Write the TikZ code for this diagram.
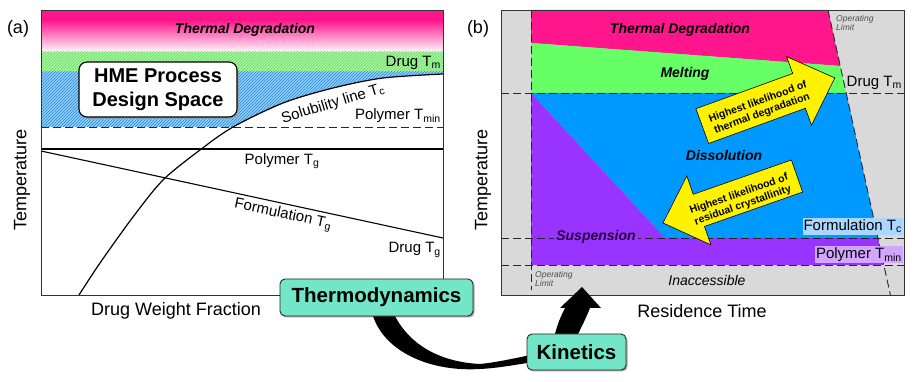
\documentclass[tikz,border=0pt]{standalone}
\usepackage{fontspec}
\setmainfont{Liberation Sans}
\usetikzlibrary{shadows,patterns}
\definecolor{mag}{RGB}{255,22,140}
\definecolor{hgreen}{RGB}{175,242,165}
\definecolor{hgreenl}{RGB}{90,225,90}
\definecolor{hblue}{RGB}{150,205,245}
\definecolor{hbluel}{RGB}{30,140,230}
\definecolor{bgreen}{RGB}{102,255,102}
\definecolor{bblue}{RGB}{0,153,255}
\definecolor{bpurple}{RGB}{153,51,255}
\definecolor{bgray}{RGB}{217,217,217}
\definecolor{keyteal}{RGB}{115,230,200}
\definecolor{lblue}{RGB}{170,215,255}
\definecolor{lpurple}{RGB}{212,165,255}
\definecolor{darkpur}{RGB}{40,0,60}
\begin{document}
\begin{tikzpicture}[x=1pt,y=-1pt,
  lbl/.style={font=\fontsize{15}{17}\selectfont, inner sep=1pt},
  ax/.style={font=\fontsize{18}{20}\selectfont},
  region/.style={font=\fontsize{14}{16}\selectfont\bfseries\itshape},
  keybox/.style={draw=black!85, fill=keyteal, rounded corners=5pt, line width=0.9pt,
    drop shadow={shadow xshift=1.5pt, shadow yshift=-1.5pt, fill=black!70},
    font=\fontsize{20.5}{22}\selectfont\bfseries, inner sep=0pt},
  limdash/.style={dash pattern=on 8pt off 4pt, line width=0.9pt, black!85},
  frame/.style={draw=black!80, line width=0.9pt},
  yarrow/.style={fill=yellow, draw=black, line width=0.6pt},
  arrtext/.style={font=\fontsize{10.5}{12}\selectfont\bfseries, align=center, inner sep=0pt},
  oplim/.style={font=\fontsize{8.5}{9.5}\selectfont\itshape, text=black!70, align=left, inner sep=0pt}
]
\useasboundingbox (0,0) rectangle (922,382);

% ================= panel (a) =================
\fill[mag] (41,10) rectangle (443,20);
\shade[top color=mag, bottom color=white] (41,20) rectangle (443,53);
\fill[hgreen] (41,52) rectangle (443,72);
\fill[pattern=north east lines, pattern color=hgreenl] (41,52) rectangle (443,72);
\begin{scope}
  \clip (41,295) -- plot[smooth] coordinates {(79,295) (100,263) (133,217) (163,180) (200,150) (233,127) (283,103) (333,88) (383,78) (443,74)} -- (443,10) -- (41,10) -- cycle;
  \fill[hblue] (41,72) rectangle (443,127);
  \fill[pattern=north east lines, pattern color=hbluel] (41,72) rectangle (443,127);
\end{scope}
\draw[limdash] (41,127) -- (443,127);
\draw[line width=1.3pt] (41,149) -- (443,149);
\draw[line width=1.1pt] (41,151) -- (443,238);
\draw[line width=1.2pt] plot[smooth] coordinates {(79,295) (100,263) (133,217) (163,180) (200,150) (233,127) (283,103) (333,88) (383,78) (443,74)};
\draw[frame] (41,10) rectangle (443,295);

\node[region] (tda) at (245,30) {Thermal Degradation};
\node[draw=black, line width=1.1pt, fill=white, rounded corners=8pt,
  drop shadow={shadow xshift=2pt, shadow yshift=-2pt, fill=black!40},
  minimum width=158pt, minimum height=55pt, align=center,
  font=\fontsize{20}{24}\selectfont\bfseries] (hme) at (158,89.5) {HME Process\\Design Space};
\node[lbl, anchor=east] (dtma) at (442,63) {Drug T\textsubscript{m}};
\node[lbl, anchor=east] (ptmina) at (442,116) {Polymer T\textsubscript{min}};
\node[lbl, rotate=17] (sol) at (333,104) {Solubility line T\textsubscript{c}};
\node[lbl] (ptga) at (282,161) {Polymer T\textsubscript{g}};
\node[lbl, rotate=-12] (ftg) at (283,215) {Formulation T\textsubscript{g}};
\node[lbl, anchor=east] (dtga) at (442,250) {Drug T\textsubscript{g}};
\node[ax] (la) at (18,29) {(a)};
\node[ax, rotate=90] (tempa) at (22,180) {Temperature};
\node[ax] (xa) at (176,311) {Drug Weight Fraction};

% ================= panel (b) =================
\fill[bgray] (501,10) rectangle (904,295);
\fill[mag] (531,10) -- (828,10) -- (840.3,66) -- (531,43) -- cycle;
\fill[bgreen] (531,43) -- (840.3,66) -- (846.2,93) -- (531,93) -- cycle;
\fill[bblue] (531,93) -- (846.2,93) -- (878,238) -- (665,238) -- cycle;
\fill[bpurple] (531,93) -- (665,238) -- (878,238) -- (883.9,265) -- (531,265) -- cycle;

\draw[limdash] (501,93) -- (904,93);
\draw[limdash] (501,238) -- (904,238);
\draw[limdash] (501,265) -- (904,265);
\draw[limdash] (531,10) -- (531,290);
\draw[limdash] (828,10) -- (890.4,295);

% yellow arrows
\begin{scope}[shift={(768.5,102)}, rotate=20]
  \draw[yarrow] (-70.5,-18.5) -- (32.5,-18.5) -- (32.5,-36.5) -- (70.5,0) -- (32.5,36.5) -- (32.5,18.5) -- (-70.5,18.5) -- cycle;
\end{scope}
\begin{scope}[shift={(730,199.5)}, rotate=199.3]
  \draw[yarrow] (-71,-17) -- (33,-17) -- (33,-36.5) -- (71,0) -- (33,36.5) -- (33,17) -- (-71,17) -- cycle;
\end{scope}
\node[arrtext, rotate=20] (a1t) at (760,108) {Highest likelihood of\\thermal degradation};
\node[arrtext, rotate=19.3] (a2t) at (741,200) {Highest likelihood of\\residual crystallinity};

\node[region] (tdb) at (680,30) {Thermal Degradation};
\node[region] (melt) at (685,74) {Melting};
\node[region] (diss) at (724,155) {Dissolution};
\node[region, text=darkpur, fill=bpurple, inner sep=2pt] (susp) at (596,237) {Suspension};
\node[font=\fontsize{14}{16}\selectfont\itshape] (inacc) at (707,280) {Inaccessible};
\node[lbl, anchor=east] (dtmb) at (903,83) {Drug T\textsubscript{m}};
\node[lbl, anchor=east, fill=lblue, minimum height=17pt, inner xsep=1pt] (ftcb) at (903,226.5) {Formulation T\textsubscript{c}};
\node[lbl, anchor=east, fill=lpurple, minimum height=17pt, inner xsep=1pt] (ptminb) at (903,254.5) {Polymer T\textsubscript{min}};
\node[oplim, anchor=north west] (ol1) at (836,15) {Operating\\Limit};
\node[oplim, anchor=north west] (ol2) at (535,271) {Operating\\Limit};
\draw[frame] (501,10) rectangle (904,295);

\node[ax] (lb) at (478,29) {(b)};
\node[ax, rotate=90] (tempb) at (483,180) {Temperature};
\node[ax] (xb) at (702,311) {Residence Time};

% ================= curved black arrow =================
\fill[black] (373,316) .. controls (385,352) and (430,372) .. (480,369)
  .. controls (500,368) and (520,364) .. (545,360) -- (555,334)
  .. controls (558,322) and (562,314) .. (565,308) -- (560,308) -- (582,287) -- (601,308) -- (590,308)
  .. controls (586,318) and (582,326) .. (578,334) -- (545,352)
  .. controls (520,357) and (500,362) .. (480,364)
  .. controls (440,362) and (410,345) .. (395,316) -- cycle;

\node[keybox, minimum width=193pt, minimum height=37pt] (thermo) at (376.5,297.5) {Thermodynamics};
\node[keybox, minimum width=99pt, minimum height=36pt] (kin) at (576.5,352) {Kinetics};
\end{tikzpicture}
\end{document}
